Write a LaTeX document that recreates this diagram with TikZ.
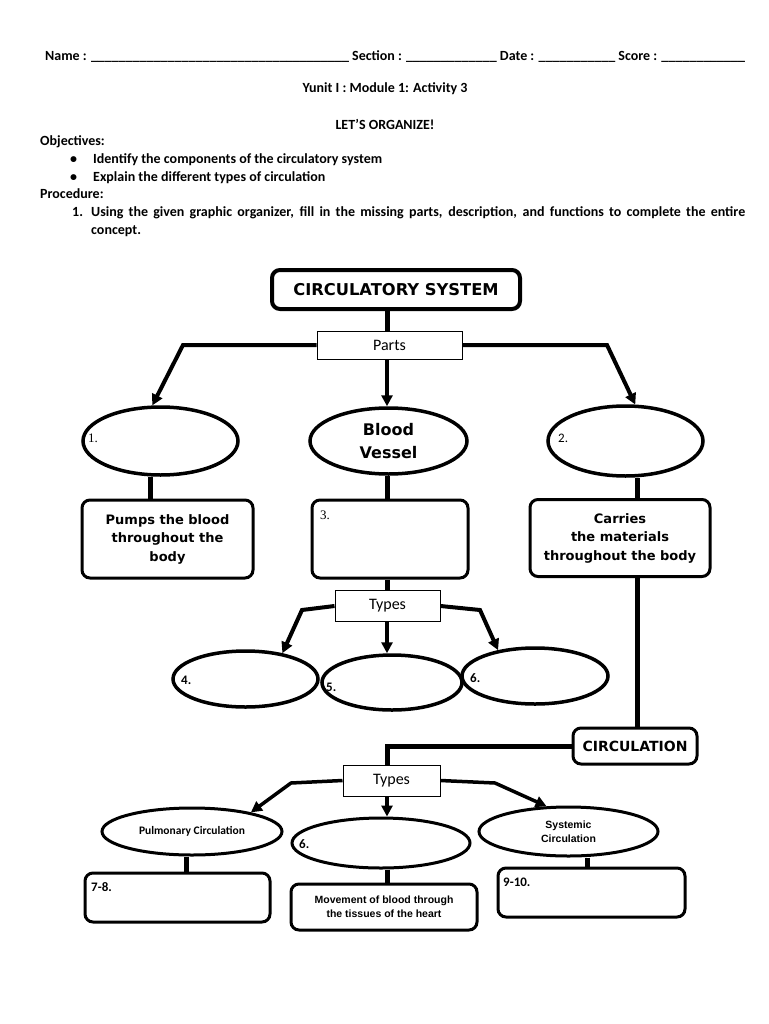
\documentclass[tikz,border=0pt]{standalone}
\usepackage{fontspec}
\setmainfont{Carlito}
\newfontfamily\heavy{DejaVu Sans}
\newfontfamily\arialf{Liberation Sans}
\newfontfamily\timesf{Liberation Serif}
\usetikzlibrary{shapes.geometric,arrows.meta,calc}
\newcommand\uf{\_\_\_\_\_}
\begin{document}
\begin{tikzpicture}[x=1pt,y=-1pt,
  hdr/.style={font=\bfseries\fontsize{14}{18}\selectfont, inner sep=0pt},
  oval/.style={draw, ellipse, line width=3.5pt, inner sep=0pt, fill=white},
  rbox/.style={draw, rounded corners=8pt, line width=3pt, inner sep=0pt, fill=white},
  tbox/.style={draw, line width=1pt, inner sep=0pt, fill=white, font=\fontsize{16}{18}\selectfont},
  link/.style={line width=5pt},
  arr/.style={line width=4pt, -{Triangle[length=11pt,width=11pt]}},
  num/.style={font=\fontsize{13}{15}\selectfont, inner sep=0pt, anchor=west},
  heavytxt/.style={font=\heavy\bfseries\fontsize{13}{18.5}\selectfont, align=center}
]
\useasboundingbox (0,0) rectangle (768,1024);
\fill[white] (0,0) rectangle (768,1024);

% ---------- header ----------
\node[hdr, anchor=base west] (name) at (45,61)
  {Name : \uf\uf\uf\uf\uf\uf\uf\_\_ Section : \uf\uf\_\_\_ Date : \uf\uf\_ Score : \uf\uf\_\_};
\node[hdr, anchor=base] (unit) at (385,93) {Yunit I : Module 1: Activity 3};
\node[hdr, anchor=base] (org) at (385,130) {LET’S ORGANIZE!};
\node[hdr, anchor=base west] (obj) at (40,146) {Objectives:};
\node[hdr, anchor=base west] (bu1) at (70,164) {•};
\node[hdr, anchor=base west] (ob1) at (93,164) {Identify the components of the circulatory system};
\node[hdr, anchor=base west] (bu2) at (70,182) {•};
\node[hdr, anchor=base west] (ob2) at (93,182) {Explain the different types of circulation};
\node[hdr, anchor=base west] (proc) at (40,199) {Procedure:};
\node[hdr, anchor=base west] (p1n) at (72,217) {1.};
\node[hdr, anchor=base west, text width=654pt, align=justify] (p1) at (91,217)
  {Using the given graphic organizer, fill in the missing parts, description, and functions to complete the entire\linebreak concept.};

% ---------- nodes ----------
\node[rbox, line width=4pt, minimum width=248pt, minimum height=39pt,
      font=\heavy\bfseries\fontsize{16.3}{18}\selectfont] (cs) at (396,289.5) {CIRCULATORY SYSTEM};
\node[tbox, minimum width=145pt, minimum height=28pt] (parts) at (389.5,345) {Parts};

\node[oval, minimum width=155pt, minimum height=68pt] (e1) at (160.5,441) {};
\node[oval, minimum width=157pt, minimum height=66pt,
      font=\heavy\bfseries\fontsize{16}{23}\selectfont, align=center] (bv) at (388.5,441) {Blood\\Vessel};
\node[oval, minimum width=155pt, minimum height=70pt] (e2) at (625.5,441) {};
\node[num, font=\timesf\fontsize{13}{15}\selectfont] (l1) at (88,438) {1.};
\node[num] (l2) at (558,438) {2.};

\node[rbox, minimum width=171pt, minimum height=78pt, heavytxt] (b1) at (167.5,539)
  {Pumps the blood\\throughout the\\body};
\node[rbox, minimum width=156pt, minimum height=78pt] (b3) at (390,539) {};
\node[num, font=\timesf\fontsize{13}{15}\selectfont] (l3) at (320,515) {3.};
\node[rbox, minimum width=180pt, minimum height=77pt, heavytxt] (bc) at (620,538)
  {Carries\\the materials\\throughout the body};

\node[tbox, minimum width=105pt, minimum height=31pt] (types1) at (387.5,606) {Types};
\node[oval, minimum width=145pt, minimum height=56pt] (e4) at (245.5,679) {};
\node[oval, minimum width=140pt, minimum height=55pt] (e5) at (392,682.5) {};
\node[oval, minimum width=146pt, minimum height=56pt] (e6) at (535,676) {};
\node[num, font=\bfseries\fontsize{13}{15}\selectfont] (l4) at (181,680) {4.};
\node[num, font=\bfseries\fontsize{13}{15}\selectfont] (l5) at (326,687) {5.};
\node[num, font=\bfseries\fontsize{13}{15}\selectfont] (l6) at (470,678) {6.};

\node[rbox, minimum width=124pt, minimum height=36pt,
      font=\heavy\bfseries\fontsize{14}{16}\selectfont] (circ) at (635,746) {CIRCULATION};
\node[tbox, minimum width=97pt, minimum height=31pt] (types2) at (391.5,780.5) {Types};

\node[oval, line width=3pt, minimum width=180pt, minimum height=47pt,
      font=\bfseries\fontsize{11.5}{14}\selectfont] (pul) at (192,831.5) {Pulmonary Circulation};
\node[oval, line width=3pt, minimum width=178pt, minimum height=50pt] (e6b) at (381,843) {};
\node[num, font=\bfseries\fontsize{13}{15}\selectfont] (l6b) at (299,844) {6.};
\node[oval, line width=3pt, minimum width=179pt, minimum height=49pt,
      font=\arialf\bfseries\fontsize{10.5}{14}\selectfont, align=center] (sys) at (568.5,831.5) {Systemic\\Circulation};

\node[rbox, minimum width=185pt, minimum height=49pt] (b78) at (177.5,897.5) {};
\node[num, font=\bfseries\fontsize{13}{15}\selectfont] (l78) at (91,887) {7-8.};
\node[rbox, minimum width=186pt, minimum height=46pt,
      font=\arialf\bfseries\fontsize{10.5}{14}\selectfont, align=center] (mov) at (384,907)
  {Movement of blood through\\the tissues of the heart};
\node[rbox, minimum width=187pt, minimum height=49pt] (b910) at (591.5,892.5) {};
\node[num, font=\bfseries\fontsize{13}{15}\selectfont] (l910) at (503,882) {9-10.};

% ---------- connectors ----------
\coordinate (k1) at (183,345);
\coordinate (k2) at (607,345);
\coordinate (k3) at (302,610);
\coordinate (k4) at (480,610);
\coordinate (k5) at (291,783);
\coordinate (k6) at (495,783);
\coordinate (xa) at (150,0);
\coordinate (xb) at (637,0);
\coordinate (xc) at (387,0);
\coordinate (xd) at (186,0);
\coordinate (xe) at (587,0);

\draw[link] (parts.north -| xc) -- (cs.south -| xc);
\draw[arr] (parts.west) -- (k1) -- (e1.103);
\draw[arr] (parts.east) -- (k2) -- (e2.75);
\draw[arr] (parts.south -| xc) -- (bv.north -| xc);

\draw[link] (e1.south -| xa) -- (b1.north -| xa);
\draw[link] (bv.south -| xc) -- (b3.north -| xc);
\draw[link] (e2.south -| xb) -- (bc.north -| xb);

\draw[link] (b3.south -| xc) -- (types1.north -| xc);
\draw[arr] (types1.west) -- (k3) -- (e4.35);
\draw[arr] (types1.east) -- (k4) -- (e6.145);
\draw[arr] (types1.south -| xc) -- (e5.north -| xc);

\draw[link] (bc.south -| xb) -- (circ.north -| xb);
\draw[link] (circ.west) -| (types2.north -| xc);

\draw[arr, line width=3.5pt] (types2.west) -- (k5) -- (pul.18);
\draw[arr, line width=3.5pt] (types2.east) -- (k6) -- (sys.131);
\draw[arr, line width=3.5pt] (types2.south -| xc) -- (e6b.north -| xc);

\draw[link] (pul.south -| xd) -- (b78.north -| xd);
\draw[link] (e6b.south -| xc) -- (mov.north -| xc);
\draw[link] (sys.south -| xe) -- (b910.north -| xe);
\end{tikzpicture}
\end{document}
